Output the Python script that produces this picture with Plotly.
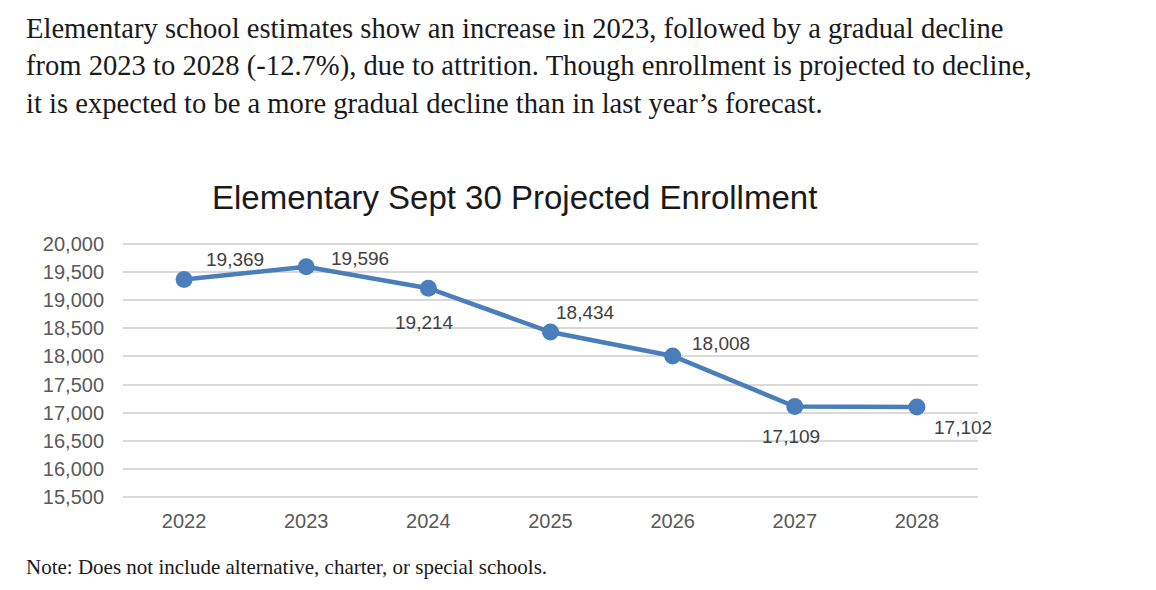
import plotly.graph_objects as go

years = ["2022", "2023", "2024", "2025", "2026", "2027", "2028"]
enrollment = [19369, 19596, 19214, 18434, 18008, 17109, 17102]
label_dx = [51, 54, -4, 35, 48, -4, 46]
label_dy = [20, 8, -34, 20, 12, -30, -21]
para_lines = [
    "Elementary school estimates show an increase in 2023, followed by a gradual decline",
    "from 2023 to 2028 (-12.7%), due to attrition. Though enrollment is projected to decline,",
    "it is expected to be a more gradual decline than in last year\u2019s forecast.",
]

line_color = "#4A7EBB"
W, H = 1156, 590
L, R, T, B = 123, 178, 242, 91
PW, PH = W - L - R, H - T - B
upp = 4500 / 253.0
y_lo, y_hi = 15500 - 2 * upp, 20000 + 2 * upp

def px_x(x):
    return (x - L) / PW

def px_y(y):
    return (H - B - y) / PH

fig = go.Figure()
fig.add_trace(go.Scatter(
    x=years, y=enrollment, mode="lines+markers",
    line=dict(color=line_color, width=4.5),
    marker=dict(size=17, color=line_color),
    hoverinfo="x+y",
))

for i, (v, dx, dy) in enumerate(zip(enrollment, label_dx, label_dy)):
    fig.add_annotation(x=i, y=v, text=f"{v:,}", showarrow=False,
                       xshift=dx, yshift=dy,
                       font=dict(family="Liberation Sans, Arial", size=19, color="#404040"))

for k, ln in enumerate(para_lines):
    fig.add_annotation(xref="paper", yref="paper", x=px_x(24), y=px_y(28 + 38 * k),
                       xanchor="left", yanchor="middle", align="left", showarrow=False,
                       text=ln,
                       font=dict(family="Liberation Serif, Times New Roman", size=28.6, color="#1a1a1a"))

fig.add_annotation(xref="paper", yref="paper", x=px_x(514), y=px_y(197),
                   xanchor="center", yanchor="middle", showarrow=False,
                   text="Elementary Sept 30 Projected Enrollment",
                   font=dict(family="Liberation Sans, Arial", size=33, color="#1a1a1a"))

fig.add_annotation(xref="paper", yref="paper", x=px_x(24), y=px_y(567),
                   xanchor="left", yanchor="middle", showarrow=False,
                   text="Note: Does not include alternative, charter, or special schools.",
                   font=dict(family="Liberation Serif, Times New Roman", size=21, color="#1a1a1a"))

fig.update_layout(
    width=W, height=H,
    margin=dict(l=L, r=R, t=T, b=B),
    paper_bgcolor="white", plot_bgcolor="white",
    showlegend=False,
    xaxis=dict(type="category", range=[-0.5, 6.5], showgrid=False, showline=False,
               ticks="", ticklabelstandoff=8,
               tickfont=dict(family="Liberation Sans, Arial", size=20, color="#595959")),
    yaxis=dict(range=[y_lo, y_hi], tickvals=list(range(15500, 20001, 500)),
               tickformat=",d", showgrid=True,
               gridcolor="#D9D9D9", gridwidth=1.5, zeroline=False, showline=False,
               ticks="", ticklabelstandoff=18,
               tickfont=dict(family="Liberation Sans, Arial", size=20, color="#595959")),
)

fig.write_html("out.html")
